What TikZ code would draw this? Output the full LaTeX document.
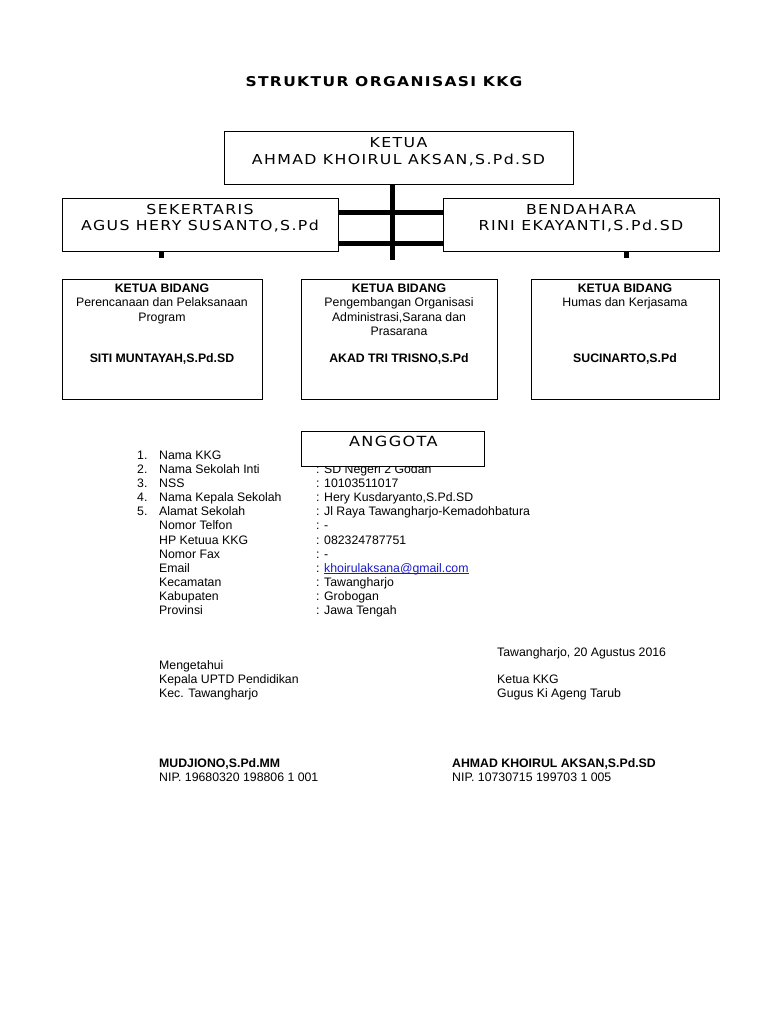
\documentclass[tikz,border=0pt]{standalone}
\usepackage{fontspec}
\setmainfont{Liberation Sans}
\newfontfamily\headfont[LetterSpace=10,FakeStretch=1.15]{DejaVu Sans}
\usetikzlibrary{positioning}
\definecolor{linkblue}{HTML}{1A1ACC}
\newcommand\linkline[1]{\setbox0\hbox{#1}\rlap{\rule[-1.7pt]{\wd0}{0.7pt}}\box0}

\begin{document}
\begin{tikzpicture}[x=1pt,y=-1pt,
  orgbox/.style={rectangle, draw=black, line width=0.9pt, fill=white, inner sep=0pt},
  boxtext/.style={anchor=north, align=center, inner sep=0pt, font=\fontsize{13.7}{16.3}\selectfont\headfont},
  bidtext/.style={anchor=north, align=center, inner sep=0pt, font=\fontsize{12.3}{14.3}\selectfont},
  bidname/.style={anchor=base, inner sep=0pt, font=\fontsize{12.3}{14.3}\selectfont\bfseries},
  bar/.style={line width=4.5pt},
  stub/.style={line width=5pt},
  item/.style={anchor=base west, inner sep=0pt, font=\fontsize{12.3}{14}\selectfont}]
  \useasboundingbox (0,0) rectangle (768,1024);

  % Title
  \node[inner sep=0pt, font=\fontsize{13.5}{15}\selectfont\headfont\bfseries] (title) at (384,81.3) {STRUKTUR ORGANISASI KKG};

  % Top level
  \node[orgbox, minimum width=349pt, minimum height=53pt] (ketua) at (398.5,158) {};
  \node[boxtext, font=\fontsize{13.7}{17}\selectfont\headfont] (ketuatext) at ([yshift=-5.8pt]ketua.north) {KETUA\\AHMAD KHOIRUL AKSAN,S.Pd.SD};

  \node[orgbox, minimum width=276pt, minimum height=53pt] (sek) at (200,224.5) {};
  \node[boxtext] (sektext) at ([yshift=-6.3pt]sek.north) {SEKERTARIS\\AGUS HERY SUSANTO,S.Pd};

  \node[orgbox, minimum width=276pt, minimum height=53pt] (bend) at (581,224.5) {};
  \node[boxtext] (bendtext) at ([yshift=-6.3pt]bend.north) {BENDAHARA\\RINI EKAYANTI,S.Pd.SD};

  % Connectors
  \coordinate (trunkend) at (392.5,260);
  \draw[bar] (ketua.south -| trunkend) -- (trunkend);
  \draw[bar] ([yshift=12pt]sek.east) -- ([yshift=12pt]bend.west);
  \draw[bar] ([yshift=-19pt]sek.east) -- ([yshift=-19pt]bend.west);
  \coordinate (sekstub) at (161.5,258);
  \coordinate (bendstub) at (626,258);
  \draw[stub] (sek.south -| sekstub) -- (sekstub);
  \draw[stub] (bend.south -| bendstub) -- (bendstub);

  % Ketua bidang
  \node[orgbox, minimum width=200pt, minimum height=120pt] (bidA) at (162,339) {};
  \node[bidtext] (bidAtext) at ([yshift=-5.3pt]bidA.north) {\textbf{KETUA BIDANG}\\Perencanaan dan Pelaksanaan\\Program};
  \node[bidname] (bidAname) at ([yshift=-84.4pt]bidA.north) {SITI MUNTAYAH,S.Pd.SD};

  \node[orgbox, minimum width=196pt, minimum height=120pt] (bidB) at (399,339) {};
  \node[bidtext] (bidBtext) at ([yshift=-5.3pt]bidB.north) {\textbf{KETUA BIDANG}\\Pengembangan Organisasi\\Administrasi,Sarana dan\\Prasarana};
  \node[bidname] (bidBname) at ([yshift=-84.4pt]bidB.north) {AKAD TRI TRISNO,S.Pd};

  \node[orgbox, minimum width=188pt, minimum height=120pt] (bidC) at (625,339) {};
  \node[bidtext] (bidCtext) at ([yshift=-5.3pt]bidC.north) {\textbf{KETUA BIDANG}\\Humas dan Kerjasama};
  \node[bidname] (bidCname) at ([yshift=-84.4pt]bidC.north) {SUCINARTO,S.Pd};

  % Data list
  \foreach \n in {1,...,5}
    \node[item] (num\n) at (137,445.3+14.1*\n) {\n.};
  \foreach \lab [count=\i] in {Nama KKG, Nama Sekolah Inti, NSS, Nama Kepala Sekolah, Alamat Sekolah,
      Nomor Telfon, HP Ketuua KKG, Nomor Fax, Email, Kecamatan, Kabupaten, Provinsi}
    \node[item] (lab\i) at (159,445.3+14.1*\i) {\lab};
  \foreach \val [count=\i from 2] in {{: SD Negeri 2 Godan}, {: 10103511017}, {: Hery Kusdaryanto,S.Pd.SD},
      {: Jl Raya Tawangharjo-Kemadohbatura}, {: -}, {: 082324787751}, {: -},
      {: \textcolor{linkblue}{\linkline{khoirulaksana@gmail.com}}}, {: Tawangharjo}, {: Grobogan}, {: Jawa Tengah}}
    \node[item] (val\i) at (316,445.3+14.1*\i) {\val};

  % Anggota box (covers the list)
  \node[orgbox, minimum width=183pt, minimum height=35pt] (anggota) at (393.4,448.5) {};
  \node[inner sep=0pt, font=\fontsize{14}{16}\selectfont\headfont] (anggotatext) at (393.4,441.7) {ANGGOTA};

  % Signatures
  \node[item] (date) at (497,656) {Tawangharjo, 20 Agustus 2016};
  \node[item] (know1) at (159,669) {Mengetahui};
  \node[item] (know2) at (159,683.5) {Kepala UPTD Pendidikan};
  \node[item] (know3) at (159,697.5) {Kec. Tawangharjo};
  \node[item] (chair1) at (497,683.5) {Ketua KKG};
  \node[item] (chair2) at (497,697.5) {Gugus Ki Ageng Tarub};
  \node[item, font=\fontsize{12.3}{14}\selectfont\bfseries] (signA) at (159,767.5) {MUDJIONO,S.Pd.MM};
  \node[item] (nipA) at (159,781.5) {NIP. 19680320 198806 1 001};
  \node[item, font=\fontsize{12.3}{14}\selectfont\bfseries] (signB) at (452,767.5) {AHMAD KHOIRUL AKSAN,S.Pd.SD};
  \node[item] (nipB) at (452,781.5) {NIP. 10730715 199703 1 005};
\end{tikzpicture}
\end{document}
